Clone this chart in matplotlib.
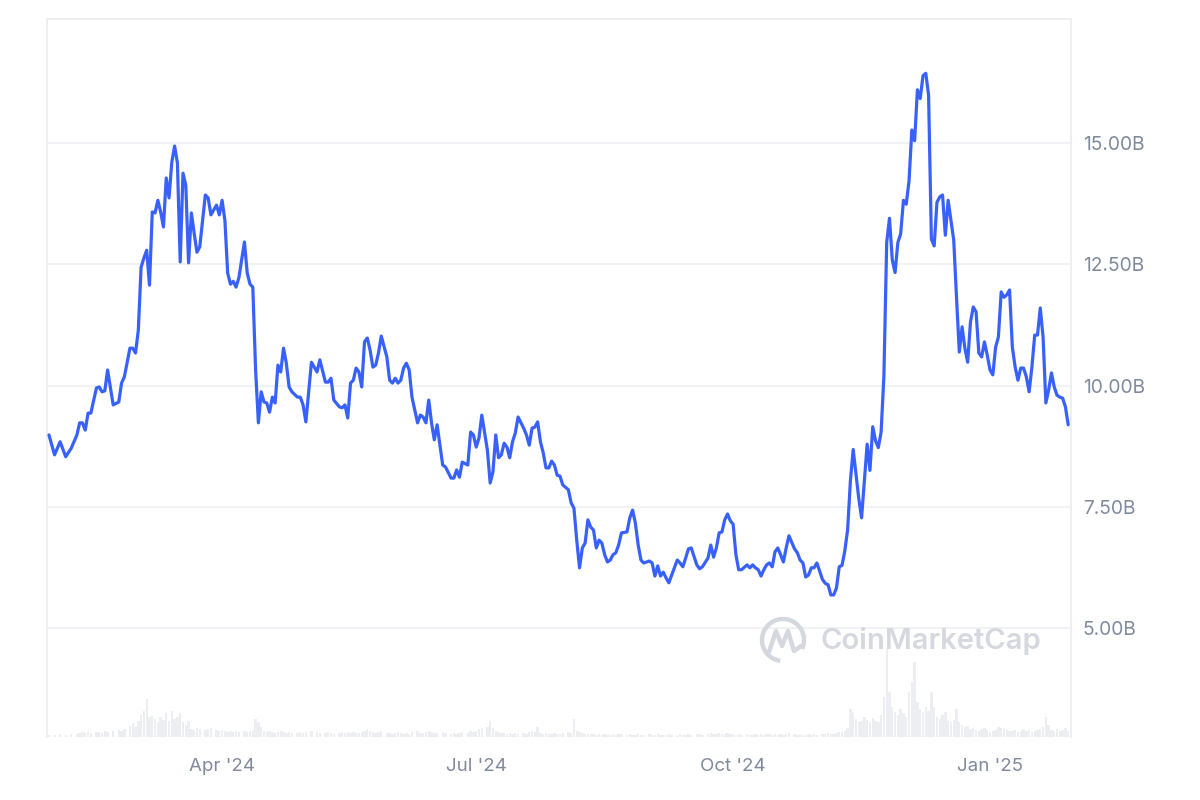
import numpy as np
import matplotlib
matplotlib.use('Agg')
import matplotlib.pyplot as plt
import matplotlib.dates as mdates
from matplotlib.patches import Arc
from matplotlib.lines import Line2D

plt.rcParams['font.family'] = ['Inter', 'DejaVu Sans']

# ---------------- data ----------------
start_date = '2024-01-01'
# day offsets since 2024-01-01
day_offsets = [
    29, 31, 33, 35, 37, 39, 40, 41, 42, 43,
    44, 46, 47, 48, 49, 50, 52, 54, 55, 56,
    58, 59, 60, 61, 62, 63, 64, 65, 66, 67,
    68, 69, 70, 71, 72, 73, 74, 75, 76, 77,
    78, 79, 80, 81, 82, 83, 85, 86, 87, 89,
    90, 91, 92, 93, 94, 95, 96, 97, 99, 100,
    101, 102, 103, 104, 105, 106, 107, 108, 109, 110,
    111, 112, 113, 114, 115, 116, 118, 119, 120, 121,
    123, 125, 126, 128, 129, 130, 131, 133, 134, 135,
    136, 137, 138, 139, 140, 141, 142, 143, 144, 145,
    146, 147, 148, 150, 151, 152, 153, 154, 155, 156,
    157, 158, 159, 161, 162, 163, 164, 165, 166, 167,
    168, 170, 171, 173, 174, 175, 176, 177, 179, 180,
    181, 182, 183, 184, 186, 187, 188, 189, 190, 191,
    192, 193, 194, 195, 196, 197, 199, 200, 201, 202,
    203, 204, 205, 206, 207, 208, 209, 210, 211, 212,
    213, 215, 216, 217, 218, 219, 220, 221, 222, 223,
    224, 225, 226, 227, 228, 229, 230, 231, 232, 233,
    234, 236, 237, 238, 239, 240, 241, 242, 244, 245,
    246, 247, 248, 249, 250, 251, 252, 254, 255, 256,
    257, 258, 259, 261, 262, 263, 265, 266, 267, 268,
    269, 270, 271, 272, 273, 274, 275, 276, 277, 279,
    280, 281, 282, 283, 284, 285, 286, 287, 288, 289,
    290, 291, 292, 293, 294, 296, 297, 298, 299, 300,
    301, 302, 303, 304, 306, 307, 308, 309, 310, 311,
    312, 313, 314, 315, 316, 317, 318, 319, 320, 321,
    322, 323, 324, 325, 326, 327, 328, 329, 330, 331,
    332, 333, 334, 335, 336, 337, 338, 339, 340, 341,
    342, 343, 344, 345, 346, 347, 348, 349, 350, 351,
    352, 353, 354, 355, 356, 357, 358, 359, 360, 361,
    362, 363, 364, 365, 366, 367, 368, 369, 370, 371,
    372, 373, 374, 375, 376, 377, 378, 379, 380, 381,
    382, 383, 384, 385, 386, 387, 388, 389, 390, 391,
    392, 393, 394,
]
# market cap in billions USD
market_cap_b = [
    8.98, 8.57, 8.84, 8.53, 8.71, 8.98, 9.23, 9.23, 9.08, 9.43,
    9.43, 9.95, 9.97, 9.87, 9.89, 10.32, 9.60, 9.66, 10.05, 10.18,
    10.77, 10.77, 10.67, 11.14, 12.44, 12.63, 12.79, 12.07, 13.58, 13.56,
    13.82, 13.58, 13.27, 14.28, 13.87, 14.61, 14.94, 14.59, 12.55, 14.38,
    14.13, 12.53, 13.56, 13.14, 12.75, 12.86, 13.93, 13.87, 13.52, 13.72,
    13.52, 13.82, 13.41, 12.32, 12.09, 12.15, 12.03, 12.22, 12.96, 12.32,
    12.09, 12.03, 10.32, 9.23, 9.87, 9.66, 9.64, 9.45, 9.76, 9.64,
    10.42, 10.28, 10.77, 10.46, 9.97, 9.87, 9.76, 9.76, 9.60, 9.25,
    10.48, 10.28, 10.53, 10.07, 10.07, 10.15, 9.70, 9.56, 9.54, 9.60,
    9.33, 10.05, 10.11, 10.36, 10.28, 9.97, 10.90, 10.98, 10.73, 10.38,
    10.42, 10.67, 11.02, 10.59, 10.11, 10.05, 10.15, 10.05, 10.11, 10.36,
    10.46, 10.32, 9.76, 9.23, 9.39, 9.35, 9.23, 9.70, 9.23, 8.88,
    9.19, 8.36, 8.32, 8.09, 8.09, 8.26, 8.11, 8.42, 8.36, 9.04,
    8.98, 8.73, 8.92, 9.39, 8.67, 7.99, 8.22, 8.98, 8.51, 8.57,
    8.81, 8.73, 8.51, 8.84, 9.02, 9.35, 9.12, 8.98, 8.77, 9.12,
    9.14, 9.25, 8.84, 8.61, 8.30, 8.30, 8.44, 8.36, 8.15, 8.13,
    7.95, 7.85, 7.58, 7.47, 6.81, 6.24, 6.65, 6.75, 7.23, 7.08,
    7.02, 6.65, 6.81, 6.75, 6.51, 6.36, 6.40, 6.51, 6.55, 6.71,
    6.96, 6.98, 7.27, 7.43, 7.16, 6.71, 6.40, 6.34, 6.38, 6.34,
    6.07, 6.28, 6.07, 6.15, 6.03, 5.93, 6.09, 6.40, 6.34, 6.26,
    6.44, 6.63, 6.65, 6.30, 6.22, 6.26, 6.44, 6.71, 6.46, 6.65,
    6.96, 6.98, 7.23, 7.35, 7.21, 7.14, 6.51, 6.20, 6.20, 6.30,
    6.24, 6.30, 6.24, 6.20, 6.07, 6.20, 6.30, 6.34, 6.26, 6.57,
    6.65, 6.51, 6.36, 6.65, 6.90, 6.63, 6.55, 6.40, 6.34, 6.05,
    6.09, 6.24, 6.24, 6.34, 6.00, 5.92, 5.89, 5.68, 5.68, 5.82,
    6.26, 6.29, 6.59, 7.02, 8.03, 8.68, 8.18, 7.67, 7.27, 8.03,
    8.79, 8.25, 9.15, 8.86, 8.72, 9.04, 10.20, 12.95, 13.45, 12.59,
    12.33, 12.95, 13.13, 13.82, 13.74, 14.22, 15.27, 15.05, 16.10, 15.92,
    16.39, 16.44, 15.99, 13.02, 12.88, 13.78, 13.89, 13.93, 13.10, 13.82,
    13.41, 13.00, 11.82, 10.69, 11.21, 10.77, 10.48, 11.31, 11.62, 11.52,
    10.67, 10.59, 10.90, 10.63, 10.32, 10.22, 10.79, 11.00, 11.93, 11.82,
    11.87, 11.97, 10.79, 10.38, 10.11, 10.36, 10.36, 10.18, 9.87, 10.38,
    11.04, 11.04, 11.60, 11.00, 9.64, 9.91, 10.26, 9.97, 9.80, 9.76,
    9.74, 9.56, 9.19,
]
# 24h volume in billions USD (same days)
volume_b = [
    0.25, 0.2, 0.3, 0.25, 0.3, 0.35, 0.4, 0.5, 0.45, 0.5,
    0.4, 0.55, 0.5, 0.45, 0.6, 0.5, 0.6, 0.7, 0.65, 0.8,
    1.1, 1.4, 1.0, 1.6, 2.2, 2.6, 3.8, 2.0, 2.1, 1.8,
    1.5, 2.0, 1.7, 2.4, 1.6, 2.6, 1.8, 2.0, 2.4, 1.5,
    1.2, 1.6, 0.8, 0.7, 0.9, 0.8, 0.7, 0.8, 0.9, 0.7,
    0.6, 0.7, 0.6, 0.5, 0.6, 0.5, 0.6, 0.5, 0.6, 0.5,
    0.6, 0.7, 1.8, 1.5, 1.0, 0.6, 0.5, 0.6, 0.5, 0.4,
    0.5, 0.6, 0.5, 0.4, 0.5, 0.4, 0.4, 0.5, 0.4, 0.5,
    0.6, 0.5, 0.4, 0.4, 0.5, 0.4, 0.3, 0.4, 0.5, 0.4,
    0.5, 0.4, 0.5, 0.4, 0.4, 0.5, 0.6, 0.8, 0.6, 0.5,
    0.4, 0.5, 0.6, 0.4, 0.4, 0.3, 0.4, 0.5, 0.4, 0.3,
    0.4, 0.3, 0.5, 0.6, 0.4, 0.4, 0.5, 0.6, 0.5, 0.4,
    0.4, 0.5, 0.4, 0.3, 0.4, 0.3, 0.4, 0.5, 0.4, 0.6,
    0.5, 0.6, 0.8, 0.9, 1.0, 1.6, 0.9, 0.6, 0.5, 0.4,
    0.4, 0.3, 0.4, 0.3, 0.4, 0.3, 0.4, 0.3, 0.5, 0.6,
    0.5, 1.0, 0.4, 0.3, 0.4, 0.3, 0.3, 0.4, 0.3, 0.3,
    0.4, 0.5, 0.4, 1.8, 0.6, 0.5, 0.4, 0.3, 0.3, 0.3,
    0.3, 0.2, 0.3, 0.2, 0.3, 0.2, 0.2, 0.3, 0.2, 0.3,
    0.3, 0.2, 0.3, 0.2, 0.2, 0.3, 0.2, 0.2, 0.3, 0.2,
    0.2, 0.3, 0.2, 0.2, 0.2, 0.3, 0.2, 0.2, 0.3, 0.2,
    0.2, 0.3, 0.2, 0.3, 0.3, 0.2, 0.3, 0.4, 0.3, 0.3,
    0.4, 0.3, 0.3, 0.4, 0.3, 0.3, 0.2, 0.3, 0.2, 0.3,
    0.2, 0.2, 0.3, 0.2, 0.3, 0.2, 0.3, 0.3, 0.2, 0.3,
    0.2, 0.3, 0.2, 0.3, 0.4, 0.3, 0.2, 0.3, 0.2, 0.2,
    0.3, 0.2, 0.3, 0.2, 0.3, 0.3, 0.4, 0.3, 0.3, 0.4,
    0.5, 0.5, 0.6, 0.9, 2.8, 2.5, 1.8, 1.5, 1.6, 2.0,
    1.7, 1.5, 1.9, 1.6, 1.5, 2.2, 4.0, 8.9, 4.5, 3.0,
    2.5, 2.2, 2.8, 2.4, 2.0, 4.5, 5.5, 7.5, 3.5, 2.8,
    2.5, 3.0, 2.6, 4.5, 3.0, 2.0, 1.8, 2.2, 2.5, 1.6,
    1.5, 1.7, 2.8, 1.5, 1.2, 1.0, 1.1, 0.8, 0.9, 0.7,
    0.6, 0.8, 0.9, 0.7, 0.5, 0.6, 0.7, 1.0, 0.9, 0.8,
    0.7, 0.6, 0.6, 0.7, 0.5, 0.6, 0.8, 0.6, 0.7, 0.5,
    0.6, 0.7, 0.8, 1.0, 2.0, 1.2, 0.7, 0.6, 0.8, 0.6,
    0.7, 0.9, 0.6,
]

y_ticks = [5.0, 7.5, 10.0, 12.5, 15.0]
y_tick_labels = ['5.00B', '7.50B', '10.00B', '12.50B', '15.00B']
x_tick_dates = ['2024-04-01', '2024-07-01', '2024-10-01', '2025-01-01']
x_tick_labels = ["Apr '24", "Jul '24", "Oct '24", "Jan '25"]
watermark = 'CoinMarketCap'

# ---------------- plot ----------------
t0 = mdates.date2num(np.datetime64(start_date))
x = t0 + np.array(day_offsets, dtype=float)

LINE = '#3861fb'
GRID = '#eff1f4'
SPINE = '#eceef1'
TXT = '#808a9d'
WM = '#d5d8df'

fig = plt.figure(figsize=(12, 8), dpi=100)
fig.patch.set_facecolor('white')
rect = [47 / 1200, 1 - 737 / 800, (1071 - 47) / 1200, (737 - 19) / 800]

axv = fig.add_axes(rect)
axv.bar(x, volume_b, width=0.85, color='#eceef2', linewidth=0)
axv.set_ylim(0, 71.8)
axv.set_xlim(t0 + 28.3, t0 + 395.0)
axv.axis('off')

ax = fig.add_axes(rect, sharex=axv)
ax.patch.set_alpha(0)
ax.plot(x, market_cap_b, color=LINE, lw=2.3, solid_joinstyle='round',
        solid_capstyle='round', zorder=3)
ax.set_ylim(2.75, 17.56)
ax.set_xlim(t0 + 28.3, t0 + 395.0)

ax.set_yticks(y_ticks)
ax.set_yticklabels(y_tick_labels)
ax.yaxis.tick_right()
ax.set_xticks([mdates.date2num(np.datetime64(d)) for d in x_tick_dates])
ax.set_xticklabels(x_tick_labels)
ax.tick_params(axis='y', length=0, pad=8.5, labelsize=13.8, labelcolor=TXT)
ax.tick_params(axis='x', length=0, pad=15, labelsize=13.5, labelcolor=TXT)
ax.grid(axis='y', color=GRID, lw=1.3, zorder=0)
ax.grid(axis='x', visible=False)
for s in ax.spines.values():
    s.set_color(SPINE)
    s.set_linewidth(1.3)
ax.spines['bottom'].set_visible(False)

# watermark (logo + text)
def fx(px):
    return px / 1200

def fy(py):
    return 1 - py / 800

r = 21
arc = Arc((fx(783), fy(640)), 2 * r / 1200, 2 * r / 800, theta1=-35, theta2=265,
          transform=fig.transFigure, color=WM, lw=3.2, zorder=1)
fig.add_artist(arc)
zig_x = [769, 776, 782, 788, 794, 801]
zig_y = [652, 631, 646, 631, 651, 646]
fig.add_artist(Line2D([fx(v) for v in zig_x], [fy(v) for v in zig_y],
                      transform=fig.transFigure, color=WM, lw=3.2,
                      solid_joinstyle='round', solid_capstyle='round', zorder=1))
fig.text(fx(821), fy(641), watermark, color=WM, fontsize=21, fontweight='semibold',
         ha='left', va='center', zorder=1)

fig.savefig('out.png', dpi=100, facecolor='white')
